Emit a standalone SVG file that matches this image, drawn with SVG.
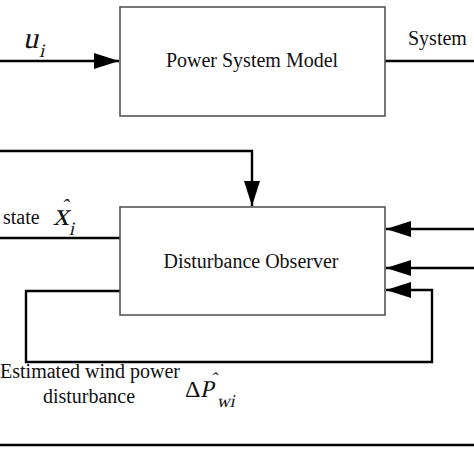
<svg xmlns="http://www.w3.org/2000/svg" width="474" height="474" viewBox="0 0 474 474">
<style>
  .box { fill: #ffffff; stroke: #555555; stroke-width: 1.6; }
  .wire { fill: none; stroke: #000000; stroke-width: 2.4; stroke-linejoin: miter; }
  .lbl { font-family: "Liberation Serif", "Times New Roman", serif; font-size: 20px; fill: #111111; }
  .math { font-family: "Liberation Serif", "Times New Roman", serif; fill: #111111; }
</style>
<defs>
  <marker id="arr" markerUnits="userSpaceOnUse" markerWidth="26" markerHeight="18" refX="25" refY="8" orient="auto">
    <path d="M0,0 L25,8 L0,16 Z" fill="#000000"/>
  </marker>
</defs>
<rect width="474" height="474" fill="#ffffff"/>

<g id="connectors">
  <line class="wire" x1="0" y1="61" x2="119" y2="61" marker-end="url(#arr)"/>
  <line class="wire" x1="385" y1="61" x2="474" y2="61"/>
  <polyline class="wire" points="0,151 252,151 252,206" marker-end="url(#arr)"/>
  <line class="wire" x1="0" y1="238" x2="120" y2="238"/>
  <line class="wire" x1="474" y1="229" x2="386" y2="229" marker-end="url(#arr)"/>
  <line class="wire" x1="474" y1="268" x2="386" y2="268" marker-end="url(#arr)"/>
  <polyline class="wire" points="120,291 26,291 26,362 432,362 432,290 386,290" marker-end="url(#arr)"/>
  <line class="wire" x1="0" y1="445" x2="474" y2="445"/>
</g>

<g id="power-system-model">
  <rect class="box" x="120" y="7" width="265" height="109"/>
  <text class="lbl" x="252" y="67" text-anchor="middle">Power System Model</text>
</g>

<g id="disturbance-observer">
  <rect class="box" x="120" y="207" width="265" height="108"/>
  <text class="lbl" x="251" y="268" text-anchor="middle">Disturbance Observer</text>
</g>

<g id="labels">
  <text class="math" transform="translate(23,48) skewX(-13)" font-size="30">u<tspan dx="3" dy="9" font-size="19">i</tspan></text>

  <text class="lbl" x="408" y="45">System</text>

  <text class="lbl" x="3" y="224">state</text>
  <text class="math" transform="translate(53,225) skewX(-13)" font-size="32">x<tspan dx="-11" dy="-12" font-size="20">ˆ</tspan><tspan dx="6.4" dy="22" font-size="19">i</tspan></text>

  <text class="lbl" x="180" y="378" text-anchor="end">Estimated wind power</text>
  <text class="lbl" x="89" y="403" text-anchor="middle">disturbance</text>
  <text class="math" x="185" y="397" font-size="24">Δ</text>
  <text class="math" transform="translate(200,397) skewX(-13)" font-size="24">P<tspan dx="-6" dy="-12" font-size="18">ˆ</tspan><tspan dx="5.6" dy="22" font-size="18">wi</tspan></text>
</g>
</svg>
